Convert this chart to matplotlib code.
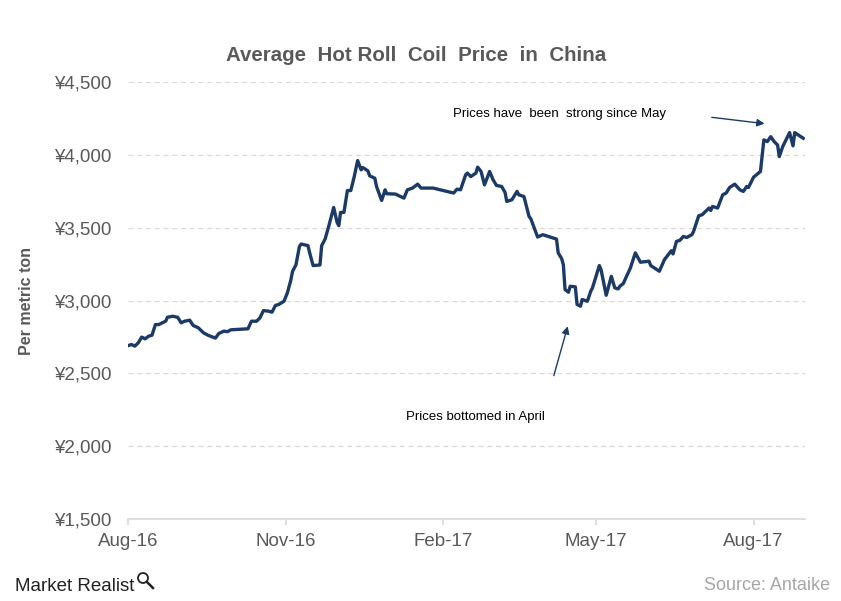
import pandas as pd
import matplotlib
matplotlib.use("Agg")
import matplotlib.pyplot as plt
import matplotlib.dates as mdates
from matplotlib.ticker import FuncFormatter, MultipleLocator
from matplotlib.patches import Ellipse

plt.rcParams['font.family'] = ['Liberation Sans', 'DejaVu Sans']

# Daily hot roll coil price (yuan per metric ton)
dates = [
    "2016-08-01", "2016-08-03", "2016-08-05", "2016-08-07", "2016-08-09", "2016-08-11",
    "2016-08-13", "2016-08-15", "2016-08-17", "2016-08-19", "2016-08-21", "2016-08-23",
    "2016-08-24", "2016-08-27", "2016-08-30", "2016-09-01", "2016-09-03", "2016-09-06",
    "2016-09-08", "2016-09-11", "2016-09-14", "2016-09-17", "2016-09-21", "2016-09-23",
    "2016-09-26", "2016-09-28", "2016-09-30", "2016-10-10", "2016-10-12", "2016-10-15",
    "2016-10-17", "2016-10-19", "2016-10-22", "2016-10-24", "2016-10-26", "2016-10-28",
    "2016-10-31", "2016-11-02", "2016-11-04", "2016-11-05", "2016-11-07", "2016-11-09",
    "2016-11-10", "2016-11-14", "2016-11-15", "2016-11-17", "2016-11-21", "2016-11-22",
    "2016-11-24", "2016-11-26", "2016-11-29", "2016-12-01", "2016-12-02", "2016-12-03",
    "2016-12-05", "2016-12-07", "2016-12-09", "2016-12-11", "2016-12-13", "2016-12-15",
    "2016-12-16", "2016-12-19", "2016-12-20", "2016-12-23", "2016-12-24", "2016-12-27",
    "2016-12-29", "2016-12-30", "2017-01-04", "2017-01-09", "2017-01-11", "2017-01-14",
    "2017-01-17", "2017-01-19", "2017-01-26", "2017-02-07", "2017-02-09", "2017-02-11",
    "2017-02-14", "2017-02-15", "2017-02-17", "2017-02-20", "2017-02-21", "2017-02-23",
    "2017-02-25", "2017-02-28", "2017-03-02", "2017-03-04", "2017-03-07", "2017-03-09",
    "2017-03-10", "2017-03-13", "2017-03-16", "2017-03-17", "2017-03-20", "2017-03-23",
    "2017-03-24", "2017-03-28", "2017-03-31", "2017-04-08", "2017-04-09", "2017-04-11",
    "2017-04-12", "2017-04-13", "2017-04-15", "2017-04-16", "2017-04-19", "2017-04-20",
    "2017-04-22", "2017-04-23", "2017-04-26", "2017-04-28", "2017-04-29", "2017-05-03",
    "2017-05-04", "2017-05-07", "2017-05-10", "2017-05-12", "2017-05-14", "2017-05-15",
    "2017-05-17", "2017-05-19", "2017-05-21", "2017-05-24", "2017-05-27", "2017-06-01",
    "2017-06-02", "2017-06-07", "2017-06-10", "2017-06-14", "2017-06-15", "2017-06-17",
    "2017-06-19", "2017-06-21", "2017-06-23", "2017-06-26", "2017-06-27", "2017-06-30",
    "2017-07-02", "2017-07-04", "2017-07-06", "2017-07-07", "2017-07-08", "2017-07-11",
    "2017-07-14", "2017-07-16", "2017-07-18", "2017-07-21", "2017-07-24", "2017-07-26",
    "2017-07-28", "2017-07-29", "2017-08-01", "2017-08-05", "2017-08-07", "2017-08-09",
    "2017-08-11", "2017-08-13", "2017-08-15", "2017-08-16", "2017-08-18", "2017-08-22",
    "2017-08-24", "2017-08-25", "2017-08-27", "2017-08-30",
]
prices = [
    2690, 2698, 2687, 2710, 2749, 2737,
    2755, 2762, 2835, 2835, 2847, 2858,
    2885, 2892, 2885, 2847, 2858, 2865,
    2829, 2813, 2779, 2760, 2742, 2774,
    2790, 2786, 2799, 2806, 2858, 2858,
    2881, 2931, 2927, 2920, 2966, 2973,
    2995, 3053, 3140, 3200, 3245, 3370,
    3388, 3377, 3327, 3240, 3244, 3377,
    3422, 3505, 3639, 3536, 3514, 3605,
    3605, 3755, 3755, 3851, 3961, 3897,
    3913, 3890, 3856, 3840, 3783, 3687,
    3760, 3733, 3731, 3703, 3760, 3772,
    3799, 3772, 3772, 3738, 3765, 3760,
    3863, 3875, 3851, 3875, 3916, 3886,
    3794, 3886, 3829, 3790, 3783, 3742,
    3680, 3692, 3749, 3726, 3714, 3577,
    3562, 3436, 3452, 3422, 3327, 3288,
    3246, 3075, 3057, 3098, 3094, 2973,
    2961, 3007, 2995, 3064, 3087, 3240,
    3212, 3036, 3166, 3087, 3080, 3098,
    3117, 3170, 3220, 3327, 3263, 3270,
    3240, 3201, 3281, 3342, 3320, 3406,
    3413, 3440, 3433, 3452, 3475, 3582,
    3589, 3612, 3635, 3618, 3646, 3635,
    3726, 3738, 3776, 3799, 3760, 3749,
    3783, 3776, 3847, 3886, 4103, 4091,
    4125, 4091, 4068, 3988, 4057, 4153,
    4062, 4153, 4137, 4114,
]
tick_dates = ["2016-08-01", "2016-11-01", "2017-02-01", "2017-05-01", "2017-08-01"]

df = pd.DataFrame({"date": pd.to_datetime(dates), "price": prices})

navy = "#1b3a66"
grey_text = "#595959"

fig = plt.figure(figsize=(8.41, 6.01), dpi=100)
ax = fig.add_axes([0.1522, 0.1364, 0.805, 0.7271])

ax.plot(df["date"], df["price"], color=navy, lw=2.4, solid_joinstyle="round")

ax.set_xlim(pd.Timestamp("2016-08-01"), pd.Timestamp("2017-08-31"))
ax.set_ylim(1500, 4500)
ax.yaxis.set_major_locator(MultipleLocator(500))
ax.yaxis.set_major_formatter(FuncFormatter(lambda v, p: "\u00a5{:,.0f}".format(v)))
ax.set_xticks(pd.to_datetime(tick_dates))
ax.xaxis.set_major_formatter(mdates.DateFormatter("%b-%y"))

ax.grid(axis="y", color="#d9d9d9", linestyle=(0, (4, 3)), lw=0.9)
ax.set_axisbelow(True)
for s in ["top", "right", "left"]:
    ax.spines[s].set_visible(False)
ax.spines["bottom"].set_color("#d9d9d9")
ax.spines["bottom"].set_linewidth(1.2)
ax.tick_params(axis="y", length=0, pad=12, labelsize=13.5, labelcolor=grey_text)
ax.tick_params(axis="x", length=4, color="#d9d9d9", width=1.2, pad=6,
               labelsize=13.5, labelcolor=grey_text)

ax.set_ylabel("Per metric ton", fontsize=11.5, fontweight="bold", color=grey_text, labelpad=14)
fig.text(0.495, 0.907, "Average  Hot Roll  Coil  Price  in  China", ha="center", va="center",
         fontsize=14.8, fontweight="bold", color=grey_text)

# annotations
ax.text(0.637, 0.927, "Prices have  been  strong since May", transform=ax.transAxes,
        ha="center", va="center", fontsize=9.5, color="black")
ax.annotate("", xy=(pd.Timestamp("2017-08-09"), 4212), xytext=(pd.Timestamp("2017-07-06"), 4260),
            arrowprops=dict(arrowstyle="-|>", color=navy, lw=1, mutation_scale=11))
ax.text(0.5126, 0.233, "Prices bottomed in April", transform=ax.transAxes,
        ha="center", va="center", fontsize=9.5, color="black")
ax.annotate("", xy=(pd.Timestamp("2017-04-15"), 2842), xytext=(pd.Timestamp("2017-04-06"), 2466),
            arrowprops=dict(arrowstyle="-|>", color=navy, lw=1, mutation_scale=11))

# footer
fig.text(0.018, 0.017, "Market Realist", fontsize=13.5, color="#222222", va="baseline")
fig.patches.append(Ellipse((143 / 841, 23 / 601), 10 / 841, 10 / 601, transform=fig.transFigure,
                           fill=False, ec="#222222", lw=1.3))
fig.add_artist(plt.Line2D([147 / 841, 153 / 841], [19 / 601, 13 / 601], color="#222222", lw=1.8,
                          transform=fig.transFigure))
fig.text(0.987, 0.018, "Source: Antaike", fontsize=13, color="#a6a6a6", ha="right",
         va="baseline")

fig.savefig("out.png", dpi=100)
